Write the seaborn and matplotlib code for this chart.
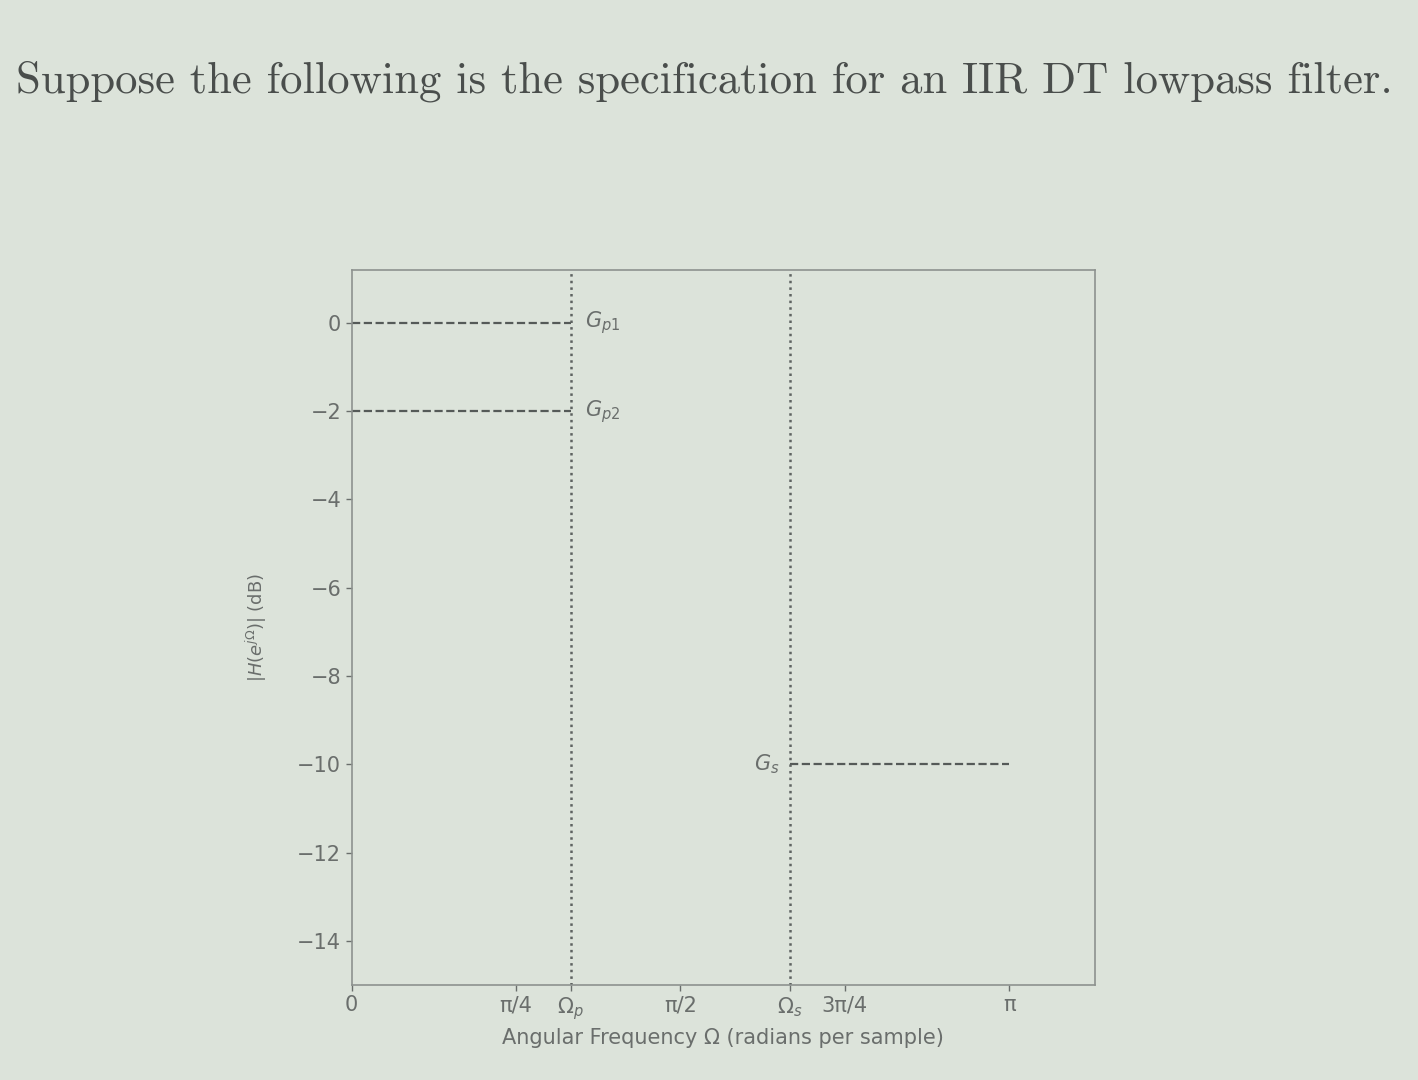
import matplotlib
matplotlib.use("Agg")
import matplotlib.pyplot as plt
import seaborn as sns
import numpy as np

# Filter specification
omega_p = np.pi / 3
omega_s = 2 * np.pi / 3
gain_p1 = 0
gain_p2 = -2
gain_s = -10

tick_pos = [0, np.pi / 4, omega_p, np.pi / 2, omega_s, 3 * np.pi / 4, np.pi]
tick_labels = ['0', 'π/4', r'$\Omega_p$', 'π/2', r'$\Omega_s$', '3π/4', 'π']
y_ticks = [-14, -12, -10, -8, -6, -4, -2, 0]

bg = '#dce3da'
ink = '#6a6e6c'

sns.set_theme(style="white")
plt.rcParams['font.family'] = ['DejaVu Sans']
plt.rcParams['mathtext.fontset'] = 'dejavusans'

fig = plt.figure(figsize=(14.18, 10.8), dpi=100, facecolor=bg)
ax = fig.add_axes([0.248, 0.088, 0.524, 0.662], facecolor=bg)

# passband edges
sns.lineplot(x=[0, omega_p], y=[gain_p1, gain_p1], ax=ax, color='#555a58',
             linestyle='--', linewidth=1.6)
sns.lineplot(x=[0, omega_p], y=[gain_p2, gain_p2], ax=ax, color='#555a58',
             linestyle='--', linewidth=1.6)
# stopband
sns.lineplot(x=[omega_s, np.pi], y=[gain_s, gain_s], ax=ax, color='#555a58',
             linestyle='--', linewidth=1.6)
ax.axvline(omega_p, color='#5e6361', linestyle=':', linewidth=1.8)
ax.axvline(omega_s, color='#5e6361', linestyle=':', linewidth=1.8)

ax.text(omega_p + 0.07, gain_p1, r'$G_{p1}$', fontsize=15, color=ink, va='center')
ax.text(omega_p + 0.07, gain_p2, r'$G_{p2}$', fontsize=15, color=ink, va='center')
ax.text(omega_s - 0.05, gain_s, r'$G_s$', fontsize=15, color=ink, va='center', ha='right')

ax.set_xlim(0, 3.55)
ax.set_ylim(-15, 1.2)
ax.set_xticks(tick_pos)
ax.set_xticklabels(tick_labels)
ax.set_yticks(y_ticks)
ax.set_yticklabels([f'\u2212{abs(v)}' if v < 0 else str(v) for v in y_ticks])
ax.tick_params(axis='both', labelsize=15, colors=ink, length=4, width=1,
               direction='out', left=True, bottom=True)
ax.set_xlabel('Angular Frequency Ω (radians per sample)', fontsize=15, color=ink, labelpad=4)
ax.set_ylabel(r'$|H(e^{j\Omega})|$ (dB)', fontsize=13, color=ink, labelpad=20)
for s in ax.spines.values():
    s.set_color('#8d928f')
    s.set_linewidth(1.2)

fig.text(0.011, 0.925, 'Suppose the following is the specification for an IIR DT lowpass filter.',
         fontsize=32.2, family='cmr10', color='#4a4e4c', va='center', ha='left')

plt.savefig('out.png', dpi=100, facecolor=bg)
plt.close()
